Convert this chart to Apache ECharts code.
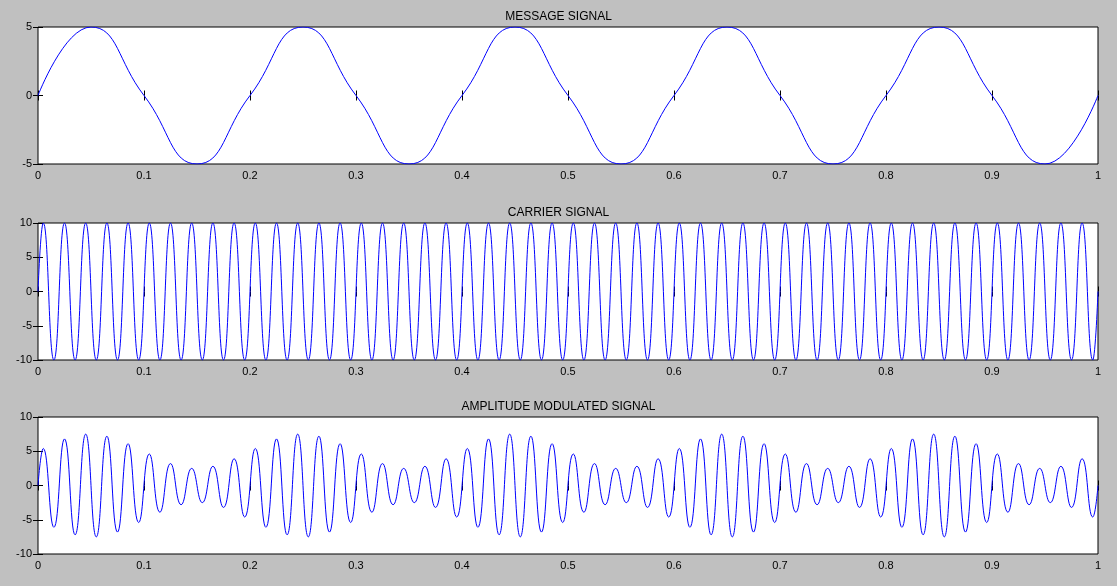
<!DOCTYPE html>
<html><head><meta charset="utf-8">
<script src="https://cdn.jsdelivr.net/npm/echarts@6/dist/echarts.min.js"></script>
<style>html,body{margin:0;padding:0;background:#c0c0c0}#c{width:1117px;height:586px}</style>
</head><body><div id="c"></div>
<script>
// Titles
const titles = ["MESSAGE SIGNAL", "CARRIER SIGNAL", "AMPLITUDE MODULATED SIGNAL"];
const xTicks = [0,0.1,0.2,0.3,0.4,0.5,0.6,0.7,0.8,0.9,1];
// Message signal: zero crossings and peaks every 0.05 s
const msgT = [0,0.05,0.1,0.15,0.2,0.25,0.3,0.35,0.4,0.45,0.5,0.55,0.6,0.65,0.7,0.75,0.8,0.85,0.9,0.95,1];
const msgV = [0,5,0,-5,0,5,0,-5,0,5,0,-5,0,5,0,-5,0,5,0,-5,0];
// Carrier signal extrema (every 0.01 s starting at 0.005), plus endpoints
const carV = [0,
10,-10,10,-10,10,-10,10,-10,10,-10,10,-10,10,-10,10,-10,10,-10,10,-10,
10,-10,10,-10,10,-10,10,-10,10,-10,10,-10,10,-10,10,-10,10,-10,10,-10,
10,-10,10,-10,10,-10,10,-10,10,-10,10,-10,10,-10,10,-10,10,-10,10,-10,
10,-10,10,-10,10,-10,10,-10,10,-10,10,-10,10,-10,10,-10,10,-10,10,-10,
10,-10,10,-10,10,-10,10,-10,10,-10,10,-10,10,-10,10,-10,10,-10,10,-10,
0];
// AM signal extrema
const amV = [0,
5.4,-6.1,6.8,-7.2,7.5,-7.5,7.2,-6.8,6.1,-5.4,4.6,-3.9,3.2,-2.8,2.5,-2.5,2.8,-3.2,3.9,-4.6,
5.4,-6.1,6.8,-7.2,7.5,-7.5,7.2,-6.8,6.1,-5.4,4.6,-3.9,3.2,-2.8,2.5,-2.5,2.8,-3.2,3.9,-4.6,
5.4,-6.1,6.8,-7.2,7.5,-7.5,7.2,-6.8,6.1,-5.4,4.6,-3.9,3.2,-2.8,2.5,-2.5,2.8,-3.2,3.9,-4.6,
5.4,-6.1,6.8,-7.2,7.5,-7.5,7.2,-6.8,6.1,-5.4,4.6,-3.9,3.2,-2.8,2.5,-2.5,2.8,-3.2,3.9,-4.6,
5.4,-6.1,6.8,-7.2,7.5,-7.5,7.2,-6.8,6.1,-5.4,4.6,-3.9,3.2,-2.8,2.5,-2.5,2.8,-3.2,3.9,-4.6,
0];
const ranges = [[-5,5],[-10,10],[-10,10]];

const sampT = [0];
for (let k = 0; k < 100; k++) sampT.push(+(0.005 + 0.01*k).toFixed(3));
sampT.push(1);

const tops = [27, 223, 417];
const H = 137;
const font = {fontFamily:'Arial, Liberation Sans, sans-serif', fontSize:11, color:'#000'};
const grids = [], xAxes = [], yAxes = [], series = [], tt = [];
const datas = [msgT.map((t,i)=>[t,msgV[i]]), sampT.map((t,i)=>[t,carV[i]]), sampT.map((t,i)=>[t,amV[i]])];
for (let i = 0; i < 3; i++) {
  grids.push({left:38, right:19, top:tops[i], height:H, show:true, backgroundColor:'#fff', borderColor:'#000', borderWidth:1});
  tt.push({text:titles[i], left:'center', top:tops[i]-21, textStyle:{...font, fontWeight:'normal', fontSize:12}});
  const xBase = {type:'value', gridIndex:i, min:0, max:1, interval:0.1,
    axisLine:{show:false}, splitLine:{show:false},
    axisTick:{inside:true, length:5, lineStyle:{color:'#000'}}};
  xAxes.push({...xBase, position:'bottom', axisLabel:{...font, margin:6, formatter:v=>String(+v.toFixed(1))}});
  xAxes.push({...xBase, position:'top', axisLabel:{show:false}});
  const yBase = {type:'value', gridIndex:i, min:ranges[i][0], max:ranges[i][1], interval:5,
    axisLine:{show:false}, splitLine:{show:false},
    axisTick:{inside:true, length:5, lineStyle:{color:'#000'}}};
  yAxes.push({...yBase, position:'left', axisLabel:{...font, margin:6}});
  yAxes.push({...yBase, position:'right', axisLabel:{show:false}});
  series.push({type:'line', xAxisIndex:2*i, yAxisIndex:2*i, data:datas[i], showSymbol:false, smooth:0.5,
    lineStyle:{color:'#0000ff', width:1}, animation:false});
}
const chart = echarts.init(document.getElementById('c'));
chart.setOption({backgroundColor:'#c0c0c0', animation:false, title:tt, grid:grids, xAxis:xAxes, yAxis:yAxes, series});
</script></body></html>
